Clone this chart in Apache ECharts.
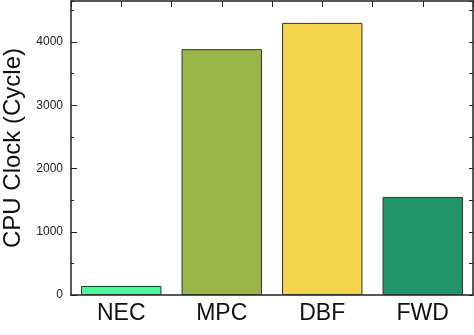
<!DOCTYPE html>
<html>
<head>
<meta charset="utf-8">
<script src="https://cdn.jsdelivr.net/npm/echarts@6/dist/echarts.min.js"></script>
<style>
  html, body { margin: 0; padding: 0; background: #fff; }
  #chart { width: 474px; height: 335px; }
</style>
</head>
<body>
<div id="chart"></div>
<script>
// CPU clock cycles per method
const categories = ['NEC', 'MPC', 'DBF', 'FWD'];
const cycles = [142, 3888, 4304, 1551];
const barColors = ['#4dfa9a', '#99b64b', '#f4d44c', '#219469'];
const yTicks = [0, 1000, 2000, 3000, 4000];

const yMin = 0, yMax = 4650;
const axisColor = '#222';
const font = 'Liberation Sans, Arial, sans-serif';

const chart = echarts.init(document.getElementById('chart'), null, { renderer: 'canvas' });

chart.setOption({
  animation: false,
  grid: { left: 71, right: 1, top: 1, bottom: 40, containLabel: false, outerBoundsMode: 'none' },
  xAxis: [
    {
      type: 'category',
      data: categories,
      position: 'bottom',
      boundaryGap: true,
      axisLine: { show: true, onZero: false, lineStyle: { color: axisColor, width: 1.5 } },
      axisTick: { show: false },
      axisLabel: { color: '#111', fontSize: 23, fontFamily: font, margin: 7 },
      splitLine: { show: false }
    },
    {
      // top frame with ticks at every half category
      type: 'value',
      position: 'top',
      min: 0, max: 8, interval: 1,
      axisLine: { show: true, onZero: false, lineStyle: { color: axisColor, width: 1.5 } },
      axisTick: { show: true, inside: true, length: 6, lineStyle: { color: axisColor, width: 1 } },
      axisLabel: { show: false },
      splitLine: { show: false }
    }
  ],
  yAxis: [
    {
      type: 'value',
      position: 'left',
      min: yMin, max: yMax, interval: 1000,
      name: 'CPU Clock (Cycle)',
      nameLocation: 'middle',
      nameRotate: 90,
      nameGap: 44,
      nameTextStyle: { fontSize: 24, fontFamily: font, color: '#111' },
      axisLine: { show: true, onZero: false, lineStyle: { color: axisColor, width: 1.5 } },
      axisTick: { show: true, inside: true, length: 6, lineStyle: { color: axisColor, width: 1 },
        customValues: yTicks },
      axisLabel: { color: '#222', fontSize: 12, fontFamily: font, margin: 8,
        customValues: yTicks,
        formatter: v => (yTicks.indexOf(v) >= 0 ? String(v) : '') },
      splitLine: { show: false }
    },
    {
      // right frame
      type: 'value',
      position: 'right',
      min: yMin, max: yMax, interval: 500,
      axisLine: { show: true, onZero: false, lineStyle: { color: axisColor, width: 1.5 } },
      axisTick: { show: true, inside: true, length: 4, lineStyle: { color: axisColor, width: 1 } },
      axisLabel: { show: false },
      splitLine: { show: false }
    },
    {
      // minor ticks on the left
      type: 'value',
      position: 'left',
      min: yMin, max: yMax, interval: 500,
      axisLine: { show: false, onZero: false },
      axisTick: { show: true, inside: true, length: 3, lineStyle: { color: axisColor, width: 1 } },
      axisLabel: { show: false },
      splitLine: { show: false }
    }
  ],
  series: [
    {
      type: 'bar',
      xAxisIndex: 0,
      yAxisIndex: 0,
      barWidth: '80%',
      data: cycles.map((v, i) => ({
        value: v,
        itemStyle: { color: barColors[i], borderColor: '#333', borderWidth: 1 }
      }))
    }
  ]
});
</script>
</body>
</html>
